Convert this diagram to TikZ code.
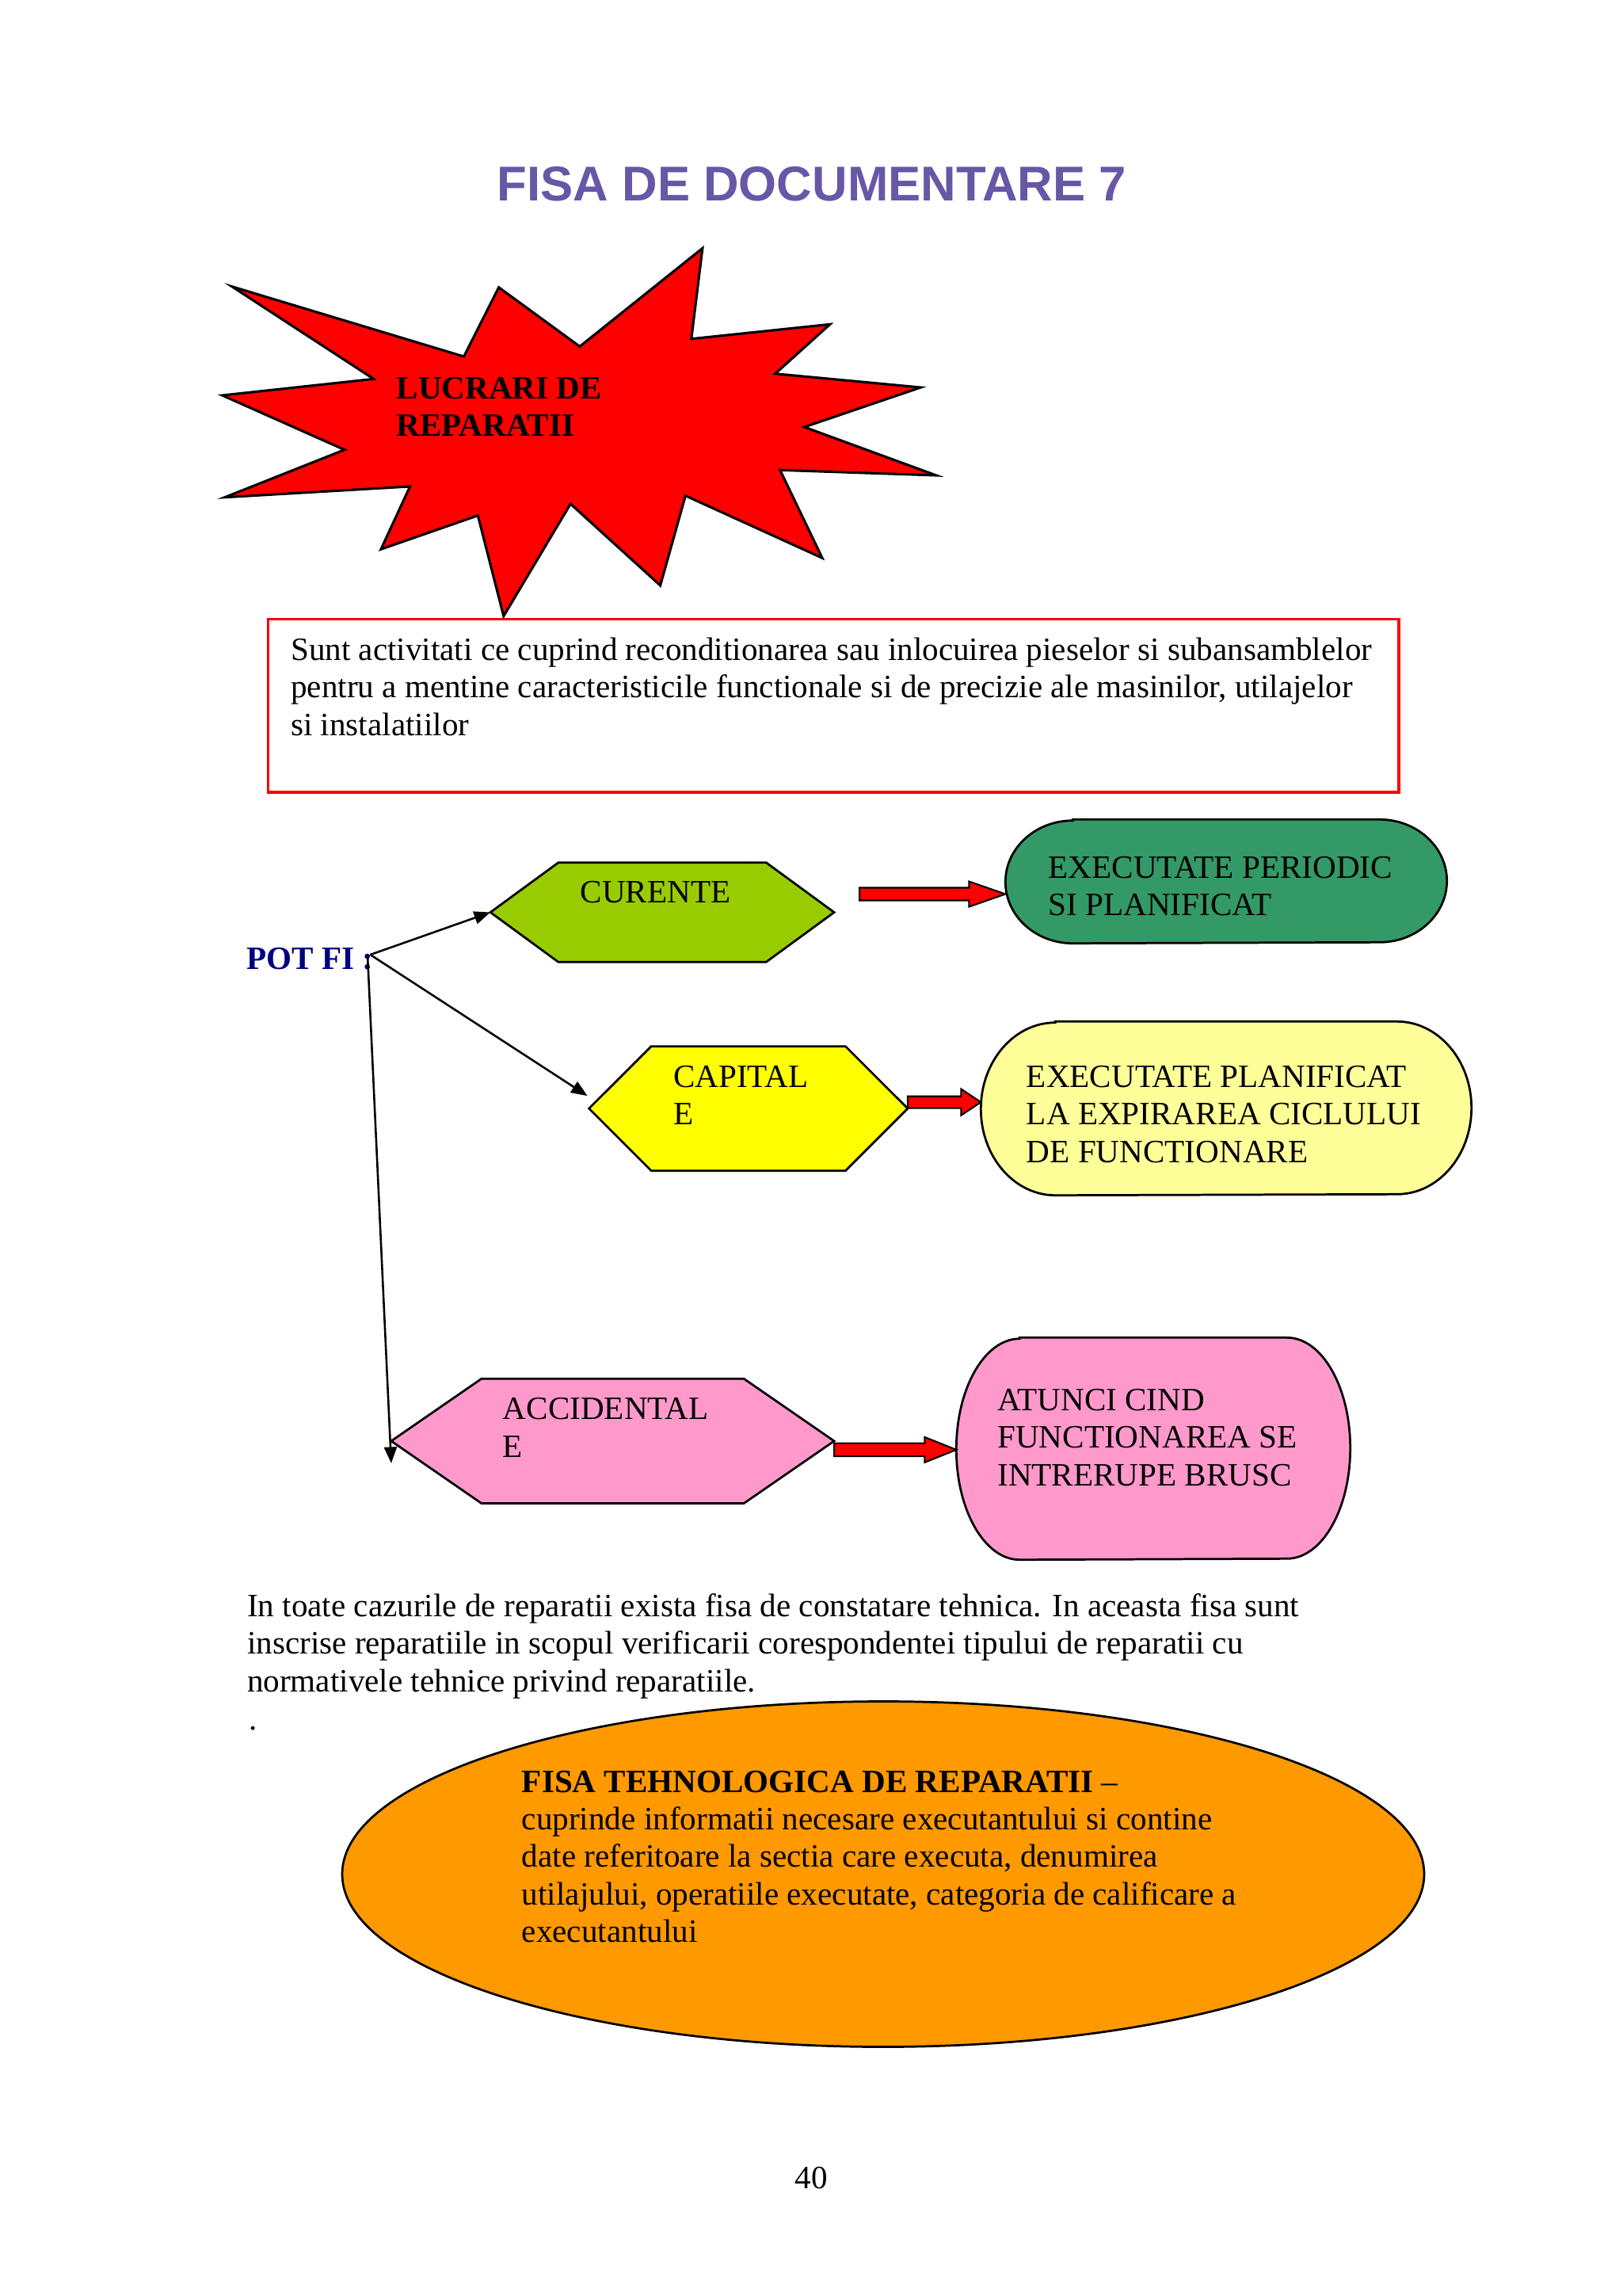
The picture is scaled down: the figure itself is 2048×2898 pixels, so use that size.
\documentclass[tikz,border=0pt]{standalone}
\usepackage{fontspec}
\setmainfont{Liberation Serif}
\newfontfamily\arialf{Liberation Sans}
\usetikzlibrary{calc,fit,arrows.meta}
\definecolor{titlec}{HTML}{6757A6}
\definecolor{navyc}{HTML}{000080}
\definecolor{limec}{HTML}{99CC00}
\definecolor{greenc}{HTML}{339966}
\definecolor{yelc}{HTML}{FFFF00}
\definecolor{lyelc}{HTML}{FFFF99}
\definecolor{pinkc}{HTML}{FF99CC}
\definecolor{orangec}{HTML}{FF9900}
\newcommand\hexpath[3]{%
  \draw[hexa, fill=#3] (#1.west) -- ($(#1.north west)+(#2,0)$) -- ($(#1.north east)+(-#2,0)$) -- (#1.east)
    -- ($(#1.south east)+(-#2,0)$) -- ($(#1.south west)+(#2,0)$) -- cycle;}
\newcommand\termpath[4]{%
  \draw[term, fill=#4] ($(#1.north west)+(#2,0)$) -- ($(#1.north east)+(-#2,0)$)
    arc[start angle=-90, end angle=90, x radius=#2, y radius=#3]
    -- ($(#1.south west)+(#2,0)$)
    arc[start angle=90, end angle=270, x radius=#2, y radius=#3] -- cycle;}
% block arrow: start coord, end coord, head length, shaft half height, head half height
\newcommand\blkarrowX[5]{%
  \draw[blk] ($(#1)+(0,-#4)$) -- ($(#2)+(-#3,-#4)$) -- ($(#2)+(-#3,-#5)$) -- (#2)
    -- ($(#2)+(-#3,#5)$) -- ($(#2)+(-#3,#4)$) -- ($(#1)+(0,#4)$) -- cycle;}
\begin{document}
\begin{tikzpicture}[x=0.10254mm,y=-0.10254mm,
  txt/.style={inner sep=0, anchor=base west, align=left, font=\fontsize{12}{13.8}\selectfont},
  btxt/.style={txt, font=\fontsize{12}{13.8}\selectfont\bfseries},
  hexa/.style={draw=black, line width=0.8pt},
  term/.style={draw=black, line width=0.8pt},
  conn/.style={line width=0.75pt, -{Triangle[length=2.1mm,width=1.65mm]}},
  blk/.style={fill=red, draw=black, line width=0.6pt},
  box/.style={inner sep=0, draw=none}]
\useasboundingbox[fill=white] (0,0) rectangle (2048,2898);

% title
\node[inner sep=0, anchor=base, font=\arialf\fontsize{18}{21}\selectfont\bfseries, text=titlec] (title) at (1025,253) {FISA DE DOCUMENTARE 7};

% starburst
\draw[fill=red, draw=black, line width=0.9pt]
 (292.9,361.7) -- (585.6,450) -- (629.7,362.7) -- (731.9,437.3) -- (886.9,313.3) -- (872.8,427.7)
 -- (1047.9,409.3) -- (978.7,471.7) -- (1162.4,489) -- (1015.5,539) -- (1182,600) -- (984.8,593.3)
 -- (1038.1,704.3) -- (865.4,625.7) -- (833.6,739) -- (720.3,636) -- (635.8,777.7) -- (603.3,650.7)
 -- (480.9,693.3) -- (517.6,614) -- (283.7,627.7) -- (434.9,567.7) -- (280.6,499) -- (471.7,478.3) -- cycle;
\node[btxt] (lucr) at (500,550.5) {LUCRARI DE\\REPARATII};

% definition box
\draw[red, line width=1pt] (338.6,781.7) rectangle (1766,1000);
\node[txt] (def) at (366.5,928) {Sunt activitati ce cuprind reconditionarea sau inlocuirea pieselor si subansamblelor\\pentru a mentine caracteristicile functionale si de precizie ale masinilor, utilajelor\\si instalatiilor};

% hexagons
\node[box, fit={(619.8,1089.5) (1052.4,1213.5)}] (cur) {};
\hexpath{cur}{85.7}{limec}
\node[txt] (curt) at (732,1139.5) {CURENTE};

\node[box, fit={(744.3,1321.3) (1145.3,1477)}] (cap) {};
\hexpath{cap}{78.6}{yelc}
\node[txt] (capt) at (849.4,1419.5) {CAPITAL\\E};

\node[box, fit={(494.6,1741) (1052.4,1896.7)}] (acc) {};
\hexpath{acc}{113.8}{pinkc}
\node[txt] (acct) at (634.3,1839.2) {ACCIDENTAL\\E};

% terminators
\node[box, fit={(1270,1035) (1826,1190)}] (gr) {};
\termpath{gr}{85}{77.5}{greenc}
\node[txt] (grt) at (1323,1155.3) {EXECUTATE PERIODIC\\SI PLANIFICAT};

\node[box, fit={(1239,1290) (1857,1508)}] (ye) {};
\termpath{ye}{94}{109}{lyelc}
\node[txt] (yet) at (1295.3,1467) {EXECUTATE PLANIFICAT\\LA EXPIRAREA CICLULUI\\DE FUNCTIONARE};

\node[box, fit={(1208,1689) (1704,1968)}] (pk) {};
\termpath{pk}{80}{139.5}{pinkc}
\node[txt] (pkt) at (1258.7,1875) {ATUNCI CIND\\FUNCTIONAREA SE\\INTRERUPE BRUSC};

% block arrows
\coordinate (b1s) at ($(cur.east)+(32,-23)$);
\coordinate (b1e) at (gr.west |- b1s);
\blkarrowX{b1s}{b1e}{46}{8}{16}
\coordinate (b2s) at ($(cap.east)+(0,-8)$);
\coordinate (b2e) at (ye.west |- b2s);
\blkarrowX{b2s}{b2e}{25}{7.4}{16.7}
\coordinate (b3s) at ($(acc.east)+(0,11)$);
\coordinate (b3e) at (pk.west |- b3s);
\blkarrowX{b3s}{b3e}{40}{8.3}{16}

% POT FI
\node[btxt, text=navyc] (potfi) at (310.6,1223) {POT FI :};
\coordinate (pf) at (467.5,1205);
\coordinate (pf2) at (464,1205);
\draw[conn] (pf) -- (cur.west);
\draw[conn] (pf) -- ($(cap.west)+(-2,-16)$);
\draw[conn] (pf2) -- ($(acc.west)+(0,28)$);

% paragraph
\node[txt] (para) at (311.4,2135) {In toate cazurile de reparatii exista fisa de constatare tehnica. In aceasta fisa sunt\\inscrise reparatiile in scopul verificarii corespondentei tipului de reparatii cu\\normativele tehnice privind reparatiile.};
\node[txt] (dot) at (314,2183) {.};

% ellipse
\draw[fill=orangec, draw=black, line width=0.8pt] (1115,2365.5) ellipse [x radius=683, y radius=218];
\node[txt] (fisa) at (658.2,2451.3) {\textbf{FISA TEHNOLOGICA DE REPARATII} –\\cuprinde informatii necesare executantului si contine\\date referitoare la sectia care executa, denumirea\\utilajului, operatiile executate, categoria de calificare a\\executantului};

% page number
\node[txt, anchor=base] (pnum) at (1024,2762) {40};
\end{tikzpicture}
\end{document}
